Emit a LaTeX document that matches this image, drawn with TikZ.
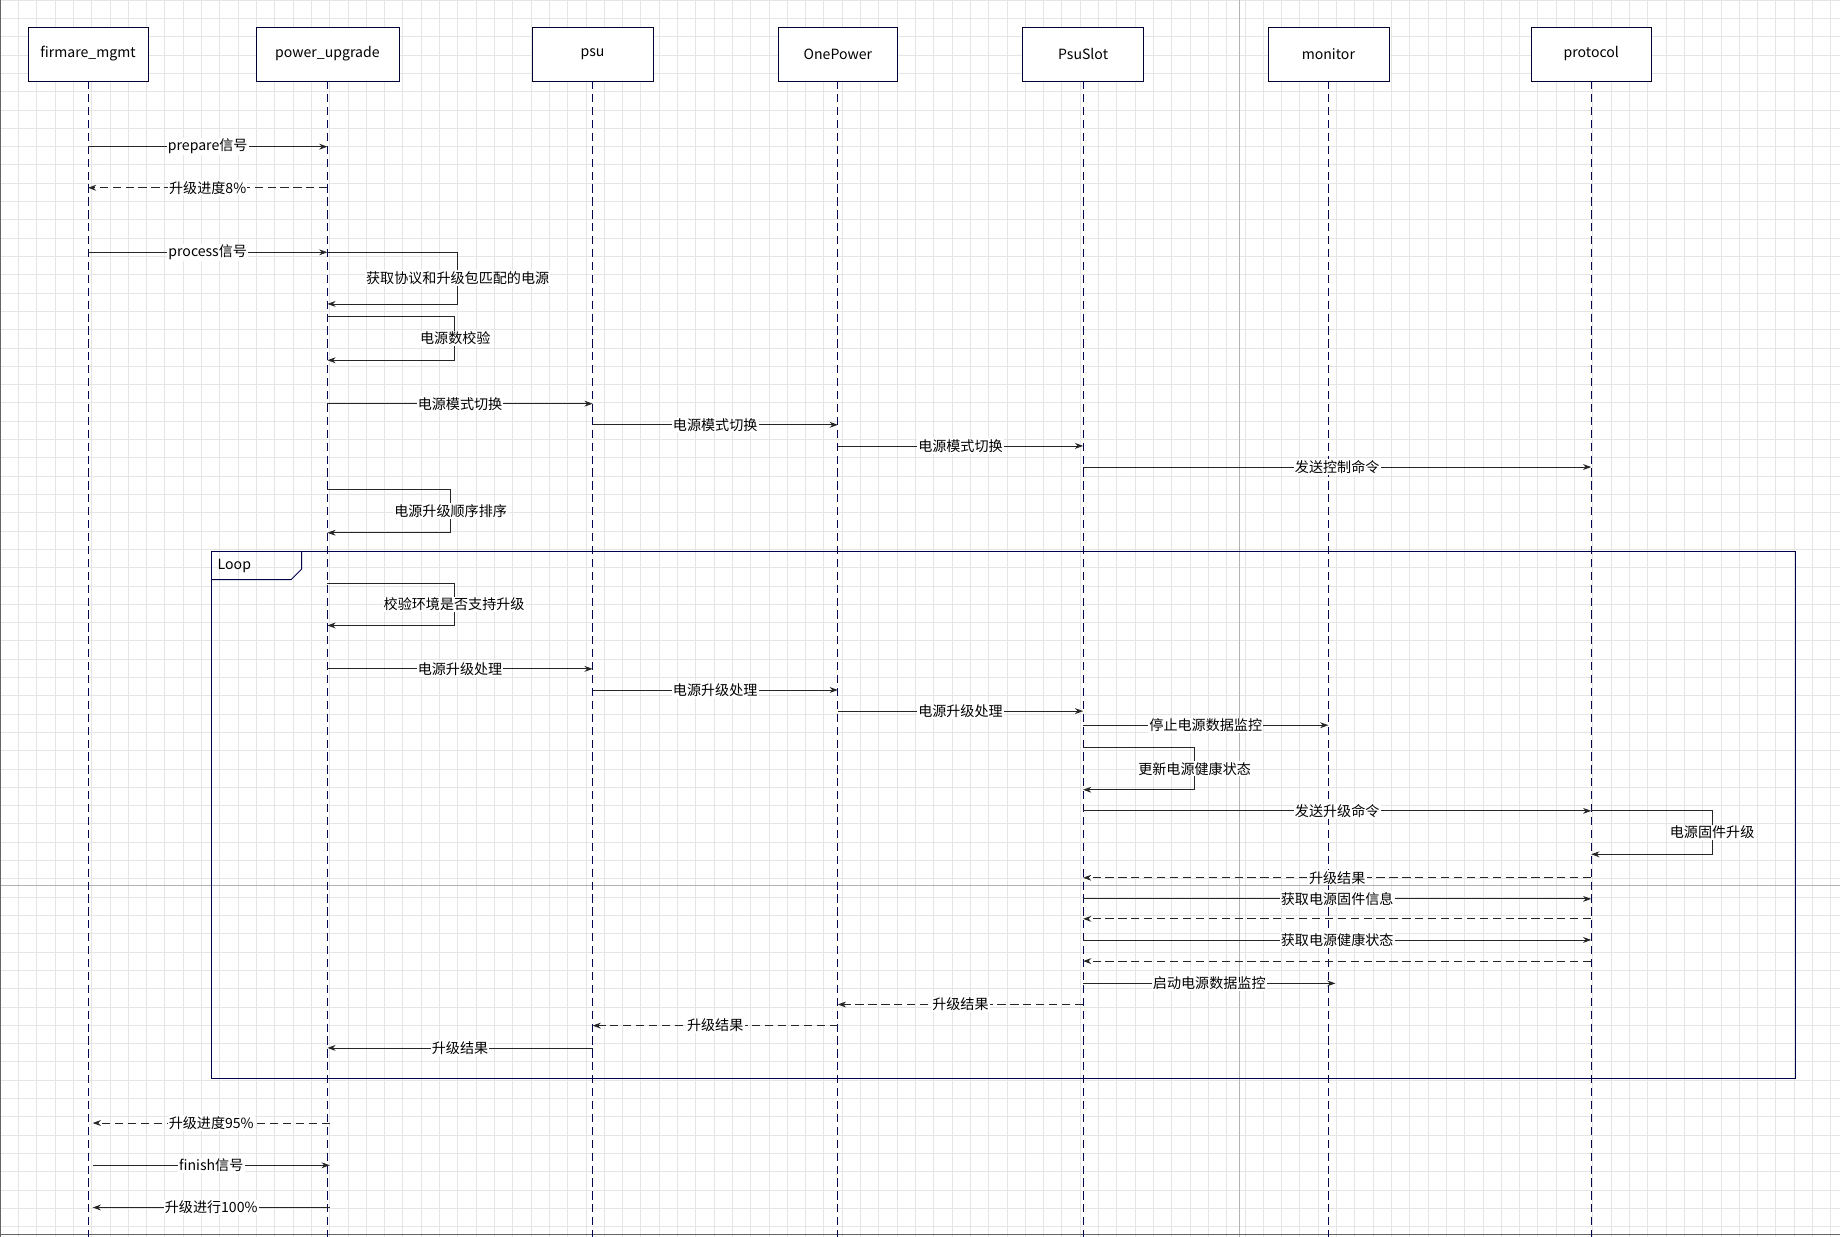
\documentclass[tikz,border=0pt]{standalone}
\usepackage{fontspec}
\setmainfont{Noto Sans CJK SC}
\usetikzlibrary{arrows.meta}
\tikzset{
  head/.style={draw=black!80!blue,fill=white,minimum height=46pt,inner sep=2pt,font=\fontsize{12}{14}\selectfont},
  life/.style={draw=black!70!blue,dashed,dash pattern=on 7pt off 4pt,line width=0.8pt},
  m/.style={draw=black!85,line width=0.7pt,-{Stealth[length=7pt,width=5pt]}},
  r/.style={m,dash pattern=on 7pt off 4pt},
  lb/.style={fill=white,inner sep=1pt,font=\fontsize{12}{14}\selectfont},
  gridl/.style={black!10,line width=0.5pt}
}
\newcommand\msgx[5]{\draw[#5] (#1 |- 0,#3) -- node[lb]{#4} (#2 |- 0,#3);}
\newcommand\selfx[6]{\draw[m] (#1 |- 0,#2) -- (#4,#2) -- (#4,#3) -- (#1 |- 0,#3);
  \node[lb] at (#5,{(#2+#3)/2}) {#6};}
\begin{document}
\begin{tikzpicture}[x=1pt,y=-1pt]
\useasboundingbox (0,0) rectangle (1568,1054);
\fill[white] (0,0) rectangle (1568,1054);
\foreach \i in {0,...,100} \draw[gridl] ({\i*15.6},0) -- ({\i*15.6},1054);
\foreach \i in {0,...,68} \draw[gridl] (0,{\i*15.6}) -- (1568,{\i*15.6});
\draw[black!30] (1056,0) -- (1056,1054) (0,754) -- (1568,754);
\draw[black!60,line width=1pt] (0,0) -- (0,1054) (0,1052) -- (1568,1052);
% heads
\node[head,minimum width=102pt] (fm) at (75,46) {firmare\_mgmt};
\node[head,minimum width=122pt] (pu) at (279,46) {power\_upgrade};
\node[head,minimum width=103pt] (psu) at (505,46) {psu};
\node[head,minimum width=102pt] (op) at (714,46) {OnePower};
\node[head,minimum width=103pt] (ps) at (923,46) {PsuSlot};
\node[head,minimum width=103pt] (mo) at (1132,46) {monitor};
\node[head,minimum width=103pt] (pr) at (1356,46) {protocol};
\foreach \n in {fm,pu,psu,op,ps,mo,pr} \draw[life] (\n.south) -- (\n |- 0,1054);
% loop frame
\draw[black!70!blue,line width=0.8pt] (180,470) rectangle (1530,919);
\draw[black!70!blue,line width=0.8pt] (180,494) -- (248,494) -- (257,485) -- (257,470);
\node[anchor=west,font=\fontsize{12}{14}\selectfont] at (182,482) {Loop};
% messages
\msgx{fm}{pu}{125}{prepare信号}{m}
\msgx{pu}{fm}{160}{升级进度8\%}{r}
\msgx{fm}{pu}{215}{process信号}{m}
\selfx{pu}{215}{259}{390}{390}{获取协议和升级包匹配的电源}
\selfx{pu}{270}{307}{387}{388}{电源数校验}
\msgx{pu}{psu}{344}{电源模式切换}{m}
\msgx{psu}{op}{362}{电源模式切换}{m}
\msgx{op}{ps}{380}{电源模式切换}{m}
\msgx{ps}{pr}{398}{发送控制命令}{m}
\selfx{pu}{417}{454}{384}{384}{电源升级顺序排序}
\selfx{pu}{497}{533}{387}{387}{校验环境是否支持升级}
\msgx{pu}{psu}{570}{电源升级处理}{m}
\msgx{psu}{op}{588}{电源升级处理}{m}
\msgx{op}{ps}{606}{电源升级处理}{m}
\msgx{ps}{mo}{618}{停止电源数据监控}{m}
\selfx{ps}{637}{673}{1018}{1018}{更新电源健康状态}
\msgx{ps}{pr}{691}{发送升级命令}{m}
\selfx{pr}{691}{728}{1459}{1459}{电源固件升级}
\msgx{pr}{ps}{748}{升级结果}{r}
\msgx{ps}{pr}{766}{获取电源固件信息}{m}
\draw[r] (pr |- 0,783) -- (ps |- 0,783);
\msgx{ps}{pr}{801}{获取电源健康状态}{m}
\draw[r] (pr |- 0,819) -- (ps |- 0,819);
\coordinate (mo2) at (1138,0);
\msgx{ps}{mo2}{838}{启动电源数据监控}{m}
\msgx{ps}{op}{856}{升级结果}{r}
\msgx{op}{psu}{874}{升级结果}{r}
\msgx{psu}{pu}{893}{升级结果}{m}
\coordinate (a1) at (281,0); \coordinate (a0) at (79,0);
\msgx{a1}{a0}{957}{升级进度95\%}{r}
\msgx{a0}{a1}{993}{finish信号}{m}
\msgx{a1}{a0}{1029}{升级进行100\%}{m}
\end{tikzpicture}
\end{document}
